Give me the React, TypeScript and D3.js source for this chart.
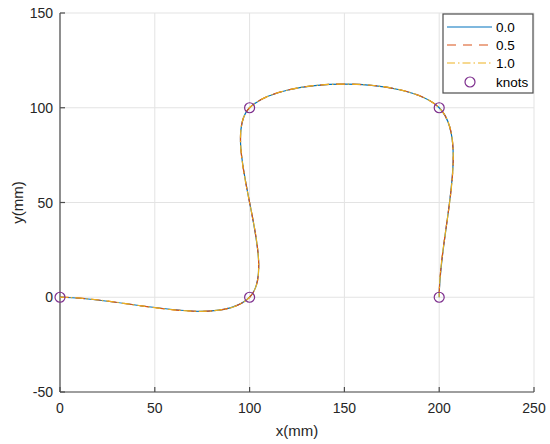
import { useMemo } from "react";
import * as d3 from "d3";

// Knots the splines pass through (mm)
const knotX = [0, 100, 100, 200, 200];
const knotY = [0, 0, 100, 100, 0];

// Catmull-Rom alpha values, one line each
const alphas = [0.0, 0.5, 1.0];
const seriesLabels = ["0.0", "0.5", "1.0"];
const seriesColors = ["#0072BD", "#D95319", "#EDB120"];
const seriesDash = ["none", "9,7", "8,3,1.5,3"];

const xTicks = [0, 50, 100, 150, 200, 250];
const yTicks = [-50, 0, 50, 100, 150];

const W = 550;
const H = 444;
const PLOT = { left: 60, right: 534, top: 13, bottom: 392 };
const FONT = "'Liberation Sans', Arial, Helvetica, sans-serif";

type Pt = [number, number];

/**
 * Spline path through the knots with reflected end points as phantoms,
 * then the two phantom segments are dropped from the output.
 */
function splinePath(pts: Pt[], alpha: number, sx: (v: number) => number, sy: (v: number) => number) {
  const n = pts.length;
  const first: Pt = [2 * pts[0][0] - pts[1][0], 2 * pts[0][1] - pts[1][1]];
  const last: Pt = [2 * pts[n - 1][0] - pts[n - 2][0], 2 * pts[n - 1][1] - pts[n - 2][1]];
  const all = [first, ...pts, last];
  const total = all.length - 1;
  const out = d3.path();
  let seg = 0;
  const ctx: any = {
    moveTo: () => {},
    lineTo: (x: number, y: number) => {
      seg++;
      if (seg === 1) out.moveTo(x, y);
      else if (seg < total) out.lineTo(x, y);
    },
    bezierCurveTo: (a: number, b: number, c: number, d: number, x: number, y: number) => {
      seg++;
      if (seg === 1) out.moveTo(x, y);
      else if (seg < total) out.bezierCurveTo(a, b, c, d, x, y);
    },
    closePath: () => {},
  };
  d3.line<Pt>()
    .x((p) => sx(p[0]))
    .y((p) => sy(p[1]))
    .curve(d3.curveCatmullRom.alpha(alpha))
    .context(ctx)(all);
  return out.toString();
}

export default function App() {
  const x = useMemo(() => d3.scaleLinear().domain([0, 250]).range([PLOT.left, PLOT.right]), []);
  const y = useMemo(() => d3.scaleLinear().domain([-50, 150]).range([PLOT.bottom, PLOT.top]), []);
  const knots: Pt[] = knotX.map((v, i) => [v, knotY[i]]);

  const paths = alphas.map((a) => splinePath(knots, a, x, y));

  const axisColor = "#4d4d4d";
  const textColor = "#262626";
  const gridColor = "#e3e3e3";

  // legend
  const lg = { x: 443, y: 14, w: 90, h: 79 };
  const rowY = [27, 45, 63, 82];

  return (
    <svg
      width={W}
      height={H}
      style={{ position: "fixed", left: 0, top: 0, background: "#fff" }}
      fontFamily={FONT}
    >
      <rect width={W} height={H} fill="#fff" />
      {/* grid */}
      <g>
        {xTicks.map((t) => (
          <line key={"gx" + t} x1={x(t)} x2={x(t)} y1={PLOT.top} y2={PLOT.bottom} stroke={gridColor} strokeWidth={1} />
        ))}
        {yTicks.map((t) => (
          <line key={"gy" + t} x1={PLOT.left} x2={PLOT.right} y1={y(t)} y2={y(t)} stroke={gridColor} strokeWidth={1} />
        ))}
      </g>

      {/* axes, inward ticks */}
      <g stroke={axisColor} strokeWidth={1.2}>
        <line x1={PLOT.left} x2={PLOT.left} y1={PLOT.top} y2={PLOT.bottom} />
        <line x1={PLOT.left} x2={PLOT.right} y1={PLOT.bottom} y2={PLOT.bottom} />
        {xTicks.map((t) => (
          <line key={"tx" + t} x1={x(t)} x2={x(t)} y1={PLOT.bottom} y2={PLOT.bottom - 5} />
        ))}
        {yTicks.map((t) => (
          <line key={"ty" + t} x1={PLOT.left} x2={PLOT.left + 5} y1={y(t)} y2={y(t)} />
        ))}
      </g>
      <g fill={textColor} fontSize={14}>
        {xTicks.map((t) => (
          <text key={"lx" + t} x={x(t)} y={PLOT.bottom + 21} textAnchor="middle">
            {t}
          </text>
        ))}
        {yTicks.map((t) => (
          <text key={"ly" + t} x={PLOT.left - 7} y={y(t) + 5} textAnchor="end">
            {t}
          </text>
        ))}
      </g>
      <text x={(PLOT.left + PLOT.right) / 2} y={436} textAnchor="middle" fontSize={15} fill={textColor}>
        x(mm)
      </text>
      <text
        transform={`translate(23,${(PLOT.top + PLOT.bottom) / 2}) rotate(-90)`}
        textAnchor="middle"
        fontSize={15}
        fill={textColor}
      >
        y(mm)
      </text>

      {/* splines */}
      {paths.map((d, i) => (
        <path
          key={"s" + i}
          d={d}
          fill="none"
          stroke={seriesColors[i]}
          strokeWidth={1.2}
          strokeDasharray={seriesDash[i]}
        />
      ))}

      {/* knots */}
      {knots.map((p, i) => (
        <circle key={"k" + i} cx={x(p[0])} cy={y(p[1])} r={5} fill="none" stroke="#7E2F8E" strokeWidth={1.2} />
      ))}

      {/* legend */}
      <rect x={lg.x} y={lg.y} width={lg.w} height={lg.h} fill="#fff" stroke={axisColor} strokeWidth={1.2} />
      {seriesLabels.map((s, i) => (
        <g key={"lg" + i}>
          <line
            x1={447}
            x2={492}
            y1={rowY[i]}
            y2={rowY[i]}
            stroke={seriesColors[i]}
            strokeWidth={1.2}
            strokeDasharray={seriesDash[i]}
          />
          <text x={496} y={rowY[i] + 5} fontSize={13.5} fill="#000">
            {s}
          </text>
        </g>
      ))}
      <circle cx={470} cy={rowY[3]} r={5} fill="none" stroke="#7E2F8E" strokeWidth={1.2} />
      <text x={496} y={rowY[3] + 5} fontSize={13.5} fill="#000">
        knots
      </text>
    </svg>
  );
}
